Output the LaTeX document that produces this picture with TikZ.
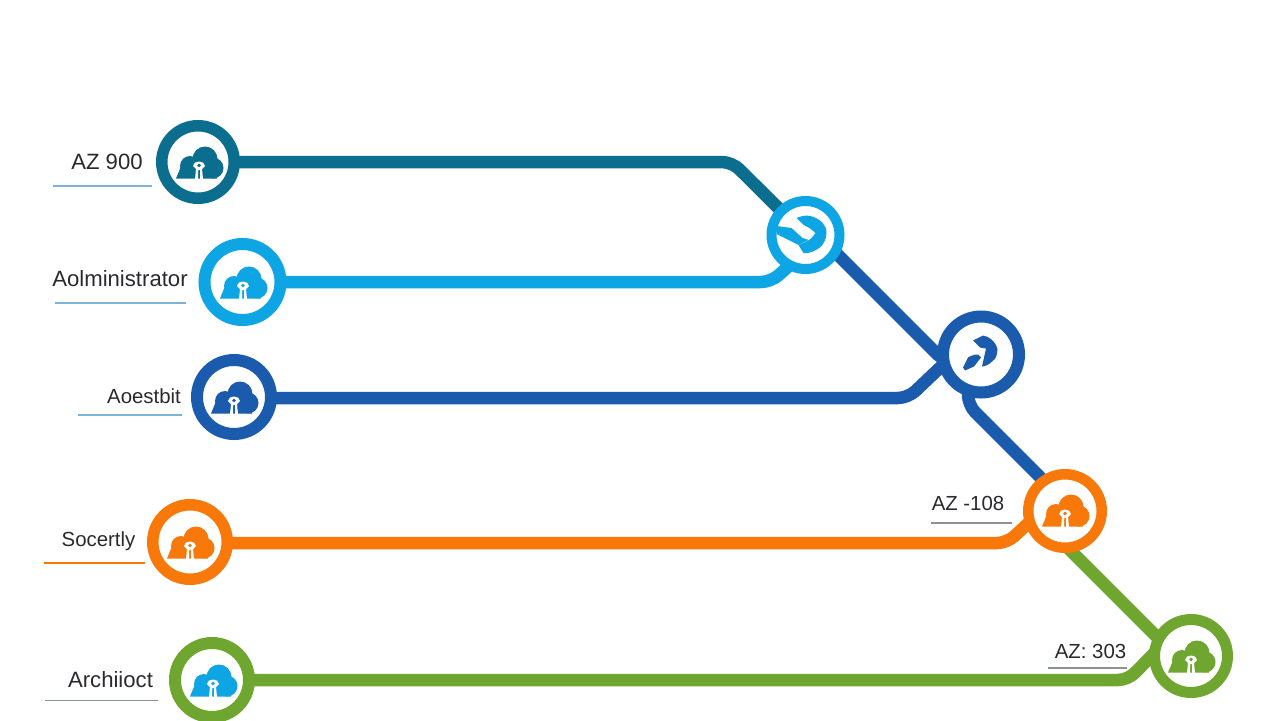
\documentclass[tikz,border=0pt]{standalone}
\usepackage{fontspec}
\setmainfont{Liberation Sans}
\usetikzlibrary{backgrounds}
\definecolor{cteal}{HTML}{0B6E8E}
\definecolor{csky}{HTML}{0EA5E4}
\definecolor{cblue}{HTML}{1A5BAE}
\definecolor{corange}{HTML}{F8780A}
\definecolor{cgreen}{HTML}{6FA62F}
\definecolor{rulegray}{HTML}{8C9296}
\definecolor{ruleblue}{HTML}{7FB2D9}
\definecolor{ink}{HTML}{2A2A2E}
\tikzset{
  x=0.02cm,y=-0.02cm,
  ring/.style n args={3}{circle,draw=#1,fill=white,line width=#3*0.02cm,minimum size=(#2*2-#3)*0.02cm,inner sep=0pt,outer sep=0pt},
  track/.style={line width=12.5*0.02cm,rounded corners=0.2cm,line join=round},
  lab/.style={font=\fontsize{12.6pt}{14pt}\selectfont,text=ink,inner sep=0pt},
  smalllab/.style={font=\fontsize{11.6pt}{14pt}\selectfont,text=ink,inner sep=0pt},
  rulel/.style={line width=1.1pt},
  pics/cloud/.style={code={
    \begin{scope}
    \clip (-30,-30) rectangle (30,15.5);
    \fill[#1] (-23,15.5) -- (-17,1) -- (-10,-5) -- (5,0) -- (18,15.5) -- cycle;
    \fill[#1] (-9,3) circle (10);
    \fill[#1] (6,-4) circle (12.5);
    \fill[#1] (14,5) circle (10.5);
    \end{scope}
    \fill[white] (-4,16) -- (-3,6) -- (-6,3) .. controls (-6,-3) and (6,-3) .. (6,3)
      -- (3,6) -- (4,16) -- (1,16) -- (1,7) -- (-1,7) -- (-1,16) -- cycle;
    \fill[#1] (0,2.4) circle (1.9);
  }}
}
\begin{document}
\begin{tikzpicture}
\useasboundingbox (0,0) rectangle (1280,720);
% nodes
\node[ring={cteal}{42}{11.5}] (n900) at (198,162) {};
\node[ring={csky}{44}{12}] (nadm) at (242.5,282) {};
\node[ring={cblue}{43}{12}] (nacc) at (234,397) {};
\node[ring={corange}{43}{11.5}] (nsec) at (190,542) {};
\node[ring={cgreen}{43}{12}] (narc) at (212,680) {};
\node[ring={csky}{39}{10}] (j1) at (805.5,235) {};
\node[ring={cblue}{44}{12}] (j2) at (981,354.5) {};
\node[ring={corange}{42}{10.5}] (j3) at (1065,511) {};
\node[ring={cgreen}{42}{11}] (j4) at (1191,656) {};
% bends
\coordinate (b900) at (732,162);
\coordinate (badm) at (771,282);
\coordinate (badm2) at (800,256);
\coordinate (bacc) at (908,398);
\coordinate (bacc2) at (948,360);
\coordinate (bsec) at (1007,543);
\coordinate (bsec2) at (1036,516);
\coordinate (barc) at (1128,680);
\coordinate (barc2) at (1165,642);
\coordinate (c12a) at (822,239);
\coordinate (c12b) at (945,362);
\coordinate (c23a) at (968,385);
\coordinate (c23b) at (968,405);
\coordinate (c23c) at (1045,482);
\coordinate (c34a) at (1060,540);
\coordinate (c34b) at (1165,645);
\begin{pgfonlayer}{background}
\fill[white] (0,0) rectangle (1280,720);
\draw[track,draw=cteal] (n900.center |- b900) -- (b900) -- (j1.center);
\draw[track,draw=csky] (nadm.center |- badm) -- (badm) -- (badm2) -- (j1.center);
\draw[track,draw=cblue] (nacc.center |- bacc) -- (bacc) -- (bacc2) -- (j2.center);
\draw[track,draw=corange] (nsec.center |- bsec) -- (bsec) -- (bsec2) -- (j3.center);
\draw[track,draw=cgreen] (narc.center |- barc) -- (barc) -- (barc2) -- (j4.center);
\draw[track,draw=cblue] (j1.center) -- (c12a) -- (c12b) -- (j2.center);
\draw[track,draw=cblue] (j2.center) -- (c23a) -- (c23b) -- (c23c) -- (j3.center);
\draw[track,draw=cgreen] (j3.center) -- (c34a) -- (c34b) -- (j4.center);
\end{pgfonlayer}
% icons
\pic at (199,163) {cloud=cteal};
\pic at (243,283) {cloud=csky};
\pic at (234,398) {cloud=cblue};
\pic at (190,543) {cloud=corange};
\pic at (213,681) {cloud=csky};
\pic at (1065,511) {cloud=corange};
\pic at (1191,657) {cloud=cgreen};
% J1 icon
\begin{scope}[shift={(j1.center)}]
\fill[csky] (-9,-17) .. controls (-2,-20) and (4,-20) .. (8,-18)
  .. controls (16,-15) and (21,-9) .. (21,-3)
  .. controls (21,3) and (19,8) .. (15,12)
  .. controls (10,16) and (3,19) .. (-2,18)
  -- (-7,10) .. controls (-2,8) and (3,6) .. (6,3)
  -- (10,-2) .. controls (6,-6) and (1,-9) .. (-2,-10) -- cycle;
\fill[csky] (-29,-9) -- (-14,-7) -- (-3,3) -- (3,5) -- (-7,10) -- (-29,-1) -- cycle;
\end{scope}
% J2 icon
\begin{scope}[shift={(j2.center)}]
\fill[cblue] (-8,-14) -- (2,-19) .. controls (8,-18) and (12,-14) .. (14,-11)
  .. controls (17,-6) and (17,-3) .. (16,-1)
  .. controls (15,4) and (13,6) .. (11,7)
  .. controls (8,10) and (4,12) .. (1,12)
  -- (3,3) -- (5,-6) -- (-1,-7) -- cycle;
\fill[cblue] (-18,13) -- (-13,3) .. controls (-10,1) and (-6,0) .. (-3,0)
  -- (0,3) -- (-7,12) -- (-16,16) -- cycle;
\end{scope}
% labels and rules
\node[lab] (t900) at (107,161.5) {AZ 900};
\coordinate (r900a) at (53,186); \coordinate (r900b) at (152,186);
\draw[rulel,ruleblue] (r900a) -- (r900b);
\node[lab] (tadm) at (120,279) {Aolministrator};
\coordinate (radma) at (55,303); \coordinate (radmb) at (186,303);
\draw[rulel,ruleblue] (radma) -- (radmb);
\node[smalllab] (tacc) at (144,396.5) {Aoestbit};
\coordinate (racca) at (78,415); \coordinate (raccb) at (182,415);
\draw[rulel,ruleblue] (racca) -- (raccb);
\node[smalllab] (tsec) at (98.5,541) {Socertly};
\coordinate (rseca) at (44,563); \coordinate (rsecb) at (145,563);
\draw[rulel,corange] (rseca) -- (rsecb);
\node[lab] (tarc) at (110.5,680) {Archiioct};
\coordinate (rarca) at (45,700.5); \coordinate (rarcb) at (158,700.5);
\draw[rulel,rulegray] (rarca) -- (rarcb);
\node[smalllab] (t108) at (968,503) {AZ -108};
\coordinate (r108a) at (931,523); \coordinate (r108b) at (1012,523);
\draw[rulel,rulegray] (r108a) -- (r108b);
\node[smalllab] (t303) at (1090.5,651) {AZ: 303};
\coordinate (r303a) at (1048,668); \coordinate (r303b) at (1127,668);
\draw[rulel,rulegray] (r303a) -- (r303b);
\end{tikzpicture}
\end{document}
